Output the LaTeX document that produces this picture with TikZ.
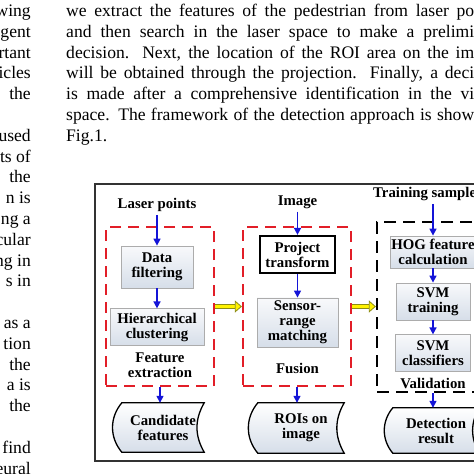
\documentclass[tikz,border=0pt]{standalone}
\usepackage{fontspec}
\setmainfont{Liberation Serif}
\usetikzlibrary{positioning,arrows.meta}
\pgfdeclarelayer{bg}
\pgfsetlayers{bg,main}
\definecolor{dashred}{RGB}{226,30,40}
\definecolor{arrblue}{RGB}{20,20,215}
\definecolor{boxtop}{RGB}{248,249,251}
\definecolor{boxbot}{RGB}{214,222,233}
\definecolor{yelline}{RGB}{140,140,20}
\newcommand{\storebox}[1]{%
  \begin{pgfonlayer}{bg}
    \draw[store] (#1.north west) to[bend right=40] (#1.south west)
      -- (#1.south east) to[bend left=30] (#1.north east) -- cycle;
  \end{pgfonlayer}}

\begin{document}
\begin{tikzpicture}[x=1pt,y=-1pt,
    every node/.style={inner sep=0pt},
    txt/.style={font=\fontsize{17.6}{20.8}\selectfont},
    lbl/.style={font=\bfseries\fontsize{14.8}{15}\selectfont,align=center,inner sep=3pt},
    proc/.style={lbl,draw=gray!65,line width=.8pt,top color=boxtop,bottom color=boxbot},
    redgrp/.style={draw=dashred,line width=2.2pt,dash pattern=on 11pt off 7pt},
    blkgrp/.style={draw=black,line width=2.2pt,dash pattern=on 12pt off 7pt},
    store/.style={draw=black,line width=1.3pt,top color=white,bottom color=boxbot},
    flow/.style={arrblue,line width=1.5pt,-{Triangle[length=7pt,width=7pt]}},
    fat/.style={draw=yelline,double=yellow,double distance=3pt,line width=.8pt,-{Triangle[length=7pt,width=12pt,fill=yellow]}}]
  \useasboundingbox (0,0) rectangle (474,474);
  % page text
  \foreach \l [count=\k from 0] in {{we extract the features of the pedestrian from laser po},{and then search in the laser space to make a prelimi},{decision. Next, the location of the ROI area on the im},{will be obtained through the projection. Finally, a deci},{is made after a comprehensive identification in the vi},{space. The framework of the detection approach is show}}
    \node[txt,anchor=base west] (r\k) at (66,16.5+20.8*\k) {\makebox[408pt][s]{\l}};
  \node[txt,anchor=base west] (fig) at (66,16.5+20.8*6) {Fig.1.};
  \foreach \k/\l in {0/wing,1/gent,2/rtant,3/icles,4/the,6/used,7/ts of,8/the,9/n is,10/ng a,11/cular,12/ng in,13/s in,15/as a,16/tion,17/the,18/a is,19/the,21/find,22/eural}
    \node[txt,anchor=base east] (l\k) at (31,16.5+20.8*\k) {\l};
  % frame
  \draw[gray!40!black,line width=1.4pt] (95,184) rectangle (490,461);
  % laser branch
  \node[lbl] (lp) at (157,205) {Laser points};
  \node[proc,minimum width=72pt,minimum height=42pt] (df) at (157,267) {Data\\filtering};
  \node[proc,minimum width=94pt,minimum height=37pt] (hc) [below=20pt of df] {Hierarchical\\clustering};
  \node[lbl] (fe) at (160,365) {Feature\\extraction};
  \node[redgrp,minimum width=108pt,minimum height=159pt] (g1) at (160,306.5) {};
  \node[lbl,minimum width=82pt,minimum height=49pt] (cf) at (163,427.5) {Candidate\\features};
  \storebox{cf}
  \draw[flow] (lp) -- (df);
  \draw[flow] (df) -- (hc);
  \draw[flow] (g1.south) -- (g1.south |- cf.north);
  % image branch
  \node[lbl] (img) at (297.5,202) {Image};
  \node[lbl,draw,line width=2.2pt,fill=white,minimum width=75pt,minimum height=37pt] (pt) at (297.5,254.5) {Project\\transform};
  \node[proc,minimum width=81pt,minimum height=47pt] (srm) at (297.5,322.5) {Sensor-\\range\\matching};
  \node[lbl] (fus) at (297.5,368) {Fusion};
  \node[redgrp,minimum width=108pt,minimum height=159pt] (g2) at (297,306.5) {};
  \node[lbl,minimum width=86pt,minimum height=50pt] (roi) at (301,428) {ROIs on\\image};
  \storebox{roi}
  \draw[flow] (img) -- (pt);
  \draw[flow] (pt) -- (srm);
  \draw[flow] (g2.south) -- (g2.south |- roi.north);
  % validation branch
  \node[lbl,anchor=west] (ts) at (370,194) {Training samples};
  \node[proc,minimum width=86pt,minimum height=32pt,inner sep=1pt] (hog) at (433,252) {HOG feature\\calculation};
  \node[proc,minimum width=74pt,minimum height=37pt] (svt) at (433,301.5) {SVM\\training};
  \node[proc,minimum width=75pt,minimum height=37pt] (svc) [below=14pt of svt] {SVM\\classifiers};
  \node[lbl] (val) at (433,383) {Validation};
  \node[blkgrp,minimum width=105pt,minimum height=170pt] (g3) at (429.5,307) {};
  \node[lbl,minimum width=86pt,minimum height=45pt] (det) at (436,430.5) {Detection\\result};
  \storebox{det}
  \draw[flow] (ts.south -| hog) -- (hog);
  \draw[flow] (hog) -- (svt);
  \draw[flow] (svt) -- (svc);
  \draw[flow] (g3.south -| svc) -- (det.north -| svc);
  % between stages
  \draw[fat] (g1) -- (g2);
  \draw[fat] (g2.east) -- (g2.east -| g3.west);
\end{tikzpicture}
\end{document}
